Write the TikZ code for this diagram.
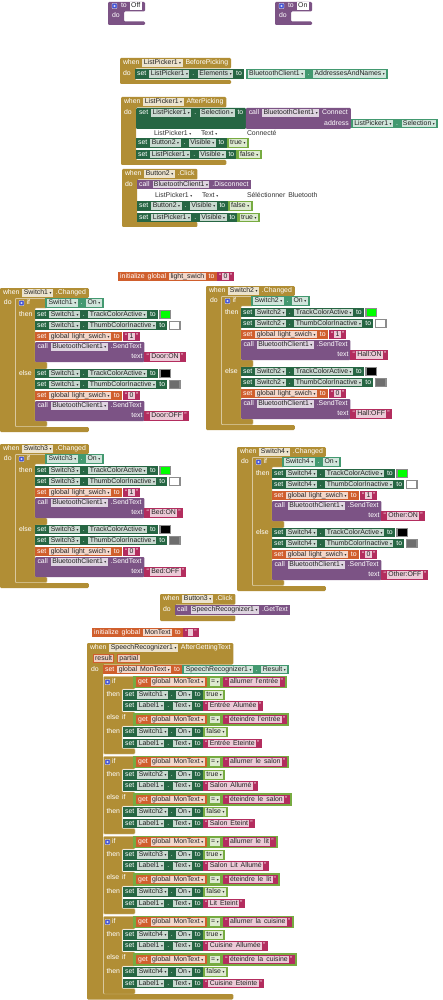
\documentclass[tikz,border=0pt]{standalone}
\usepackage{fontspec}
\setmainfont{Liberation Sans}
\newfontfamily\djv{DejaVu Sans}
\usetikzlibrary{calc}
\pgfdeclarelayer{bg}
\pgfdeclarelayer{mid}
\pgfsetlayers{bg,mid,main}
\definecolor{evc}{HTML}{B18E35}
\definecolor{setg}{HTML}{266643}
\definecolor{getg}{HTML}{439970}
\definecolor{callp}{HTML}{7C5385}
\definecolor{varo}{HTML}{D05F2D}
\definecolor{strm}{HTML}{B32D5E}
\definecolor{logicg}{HTML}{77AB41}
\definecolor{colg}{HTML}{8C8C8C}
\definecolor{thgray}{HTML}{6E6E6E}
\definecolor{gearb}{HTML}{3F51D4}
\definecolor{fldt}{HTML}{222222}
\definecolor{wtxt}{HTML}{333333}
\definecolor{brgreen}{HTML}{00FF00}
\def\fldcol{white}
\newcommand\Dd{\hspace{1.6pt}{\djv\fontsize{3.8}{3.8}\selectfont ▾}}
\newcommand\Fb[1]{{\setlength\fboxsep{0pt}\colorbox{\fldcol}{\color{fldt}\rule[-2.1pt]{0pt}{7.6pt}\hspace{1.4pt}#1\Dd\hspace{1.4pt}}}}
\newcommand\Fs[1]{{\setlength\fboxsep{0pt}\colorbox{\fldcol}{\color{fldt}\rule[-2.1pt]{0pt}{7.6pt}\hspace{1.4pt}#1\hspace{1.4pt}}}}
\newcommand\Bx[2]{{\def\fldcol{#1!25!white}\setlength\fboxsep{0pt}\colorbox{#1}{\color{white}\rule[-3.1pt]{0pt}{9.6pt}\hspace{2.2pt}#2\hspace{2.2pt}}}}
\newcommand\Bxp[2]{{\def\fldcol{#1!25!white}\setlength\fboxsep{1.5pt}\colorbox{#1}{\color{white}\hspace{1.5pt}#2\hspace{0.5pt}}}}
\newcommand\Tx[2]{{\def\fldcol{#1!25!white}\color{white}\rule[-3.1pt]{0pt}{9.6pt}#2}}
\newcommand\Wt[1]{{\color{wtxt}\rule[-3.1pt]{0pt}{9.6pt}#1}}
\newcommand\Sb[1]{\Bx{strm}{“\hspace{1pt}\Fs{#1}\hspace{1pt}”}}
\newcommand\Cb[1]{\Bx{colg}{\hspace{-0.8pt}{\setlength\fboxsep{0pt}\colorbox{#1}{\rule[-1.7pt]{0pt}{6.8pt}\hspace{9pt}}}\hspace{-0.8pt}}}
\newcommand\Cmp[1]{\Bxp{logicg}{\Bx{varo}{get \Fb{global MonText}} \Fb{=} \Sb{#1}}}
\newcommand\Pb[1]{{\setlength\fboxsep{0.8pt}\colorbox{varo}{\setlength\fboxsep{0pt}\colorbox{varo!30!white}{\color{fldt}\rule[-2.1pt]{0pt}{7.6pt}\hspace{1.4pt}#1\hspace{1.4pt}}}}}
\newcommand\Gear[3]{\node[fill=gearb, draw=white, line width=0.3pt, rounded corners=0.6pt, minimum size=5pt, anchor=center] (#1) at (#2,#3) {};
  \fill[white] (#2,#3) circle (1.1pt); \fill[gearb] (#2,#3) circle (0.45pt);}
% event block shape whose header width follows its header node #1
\newcommand\EV[7]{\coordinate (#1r) at ([xshift=3pt]#1.east);
  \begin{pgfonlayer}{bg}\fill[evc,rounded corners=1.2pt] (#2,#3) -- (#1r |- 0,#3) -- (#1r |- 0,#4) -- (#5,#4) -- (#5,#6) -- (#1r |- 0,#6) -- (#1r |- 0,#7) -- (#2,#7) -- cycle;\end{pgfonlayer}}
% one branch of a SwitchN.Changed handler
\newcommand\Branch[7]{%
  \node (s#1#2t) at (35,26.5+#3) {\Bx{setg}{set \Fb{Switch#1} . \Fb{TrackColorActive} to}\hspace{1.5pt}\Cb{#4}};
  \node (s#1#2u) at (35,37.5+#3) {\Bx{setg}{set \Fb{Switch#1} . \Fb{ThumbColorInactive} to}\hspace{1.5pt}\Cb{#5}};
  \node (s#1#2v) at (35,48.5+#3) {\Bx{varo}{set \Fb{global light\_swich} to}\hspace{1pt}\Sb{#6}};
  \node (s#1#2c) at (37.5,59+#3) {\Tx{callp}{call \Fb{BluetoothClient1} .SendText}};
  \coordinate (s#1#2e) at ([xshift=3pt]s#1#2c.east);
  \begin{pgfonlayer}{mid}\fill[callp, rounded corners=1pt] (35,54+#3) rectangle (s#1#2e |- 0,74+#3);\end{pgfonlayer}
  \node (s#1#2s) at (s#1#2e |- 0,69+#3) {\Sb{#7}};
  \node[anchor=east] (s#1#2x) at ([xshift=-2pt]s#1#2s.west) {\Tx{callp}{text}};}
\newcommand\SW[5]{%
\begin{scope}[shift={(#1,#2)}]
\node (s#3h) at (3,5) {\Tx{evc}{when \Fb{Switch#3} .Changed}};
\EV{s#3h}{0}{0}{10}{15}{139}{144}
\begin{pgfonlayer}{bg}
 \filldraw[evc, draw=evc!55!white, line width=0.4pt, rounded corners=1pt] (15.5,10.5) -- (47,10.5) -- (47,20) -- (35,20) -- (35,74) -- (47,74) -- (47,81) -- (35,81) -- (35,133) -- (47,133) -- (47,138.5) -- (15.5,138.5) -- cycle;
\end{pgfonlayer}
\node (s#3do) at (4,15) {\Tx{evc}{do}};
\Gear{s#3g}{21.5}{15}
\node (s#3if) at (26.5,15) {\Tx{evc}{if}};
\node (s#3c) at (45,15) {\Bx{getg}{\Fb{Switch#3} . \Fb{On}}};
\node (s#3th) at (19,26.5) {\Tx{evc}{then}};
\node (s#3el) at (19,85.5) {\Tx{evc}{else}};
\Branch{#3}{a}{0}{brgreen}{white}{1}{#4}
\Branch{#3}{b}{59}{black}{thgray}{0}{#5}
\end{scope}}
% if / else if block of the speech handler
\newcommand\IFB[7]{%
\begin{scope}[shift={(0,#1)}]
\begin{pgfonlayer}{bg}
\filldraw[evc, draw=evc!55!white, line width=0.4pt, rounded corners=1pt] (103.5,0.3) -- (135,0.3) -- (135,13) -- (122,13) -- (122,36) -- (135,36) -- (135,50) -- (122,50) -- (122,72.5) -- (135,72.5) -- (135,78) -- (103.5,78) -- cycle;
\end{pgfonlayer}
\Gear{q#2g}{107.5}{6}
\node (q#2i) at (112,6) {\Tx{evc}{if}};
\node (q#2c1) at (133,6) {\Cmp{#4}};
\node (q#2t1) at (106.5,19) {\Tx{evc}{then}};
\node (q#2r1) at (123,19) {\Bx{setg}{set \Fb{Switch#3} . \Fb{On} to}\Bx{logicg}{\Fb{true}}};
\node (q#2r2) at (123,30) {\Bx{setg}{set \Fb{Label1} . \Fb{Text} to}\Sb{#5}};
\node (q#2e) at (106.5,42) {\Tx{evc}{else if}};
\node (q#2c2) at (133,43.5) {\Cmp{#6}};
\node (q#2t2) at (106.5,56) {\Tx{evc}{then}};
\node (q#2r3) at (123,56) {\Bx{setg}{set \Fb{Switch#3} . \Fb{On} to}\Bx{logicg}{\Fb{false}}};
\node (q#2r4) at (123,67.5) {\Bx{setg}{set \Fb{Label1} . \Fb{Text} to}\Sb{#7}};
\end{scope}}
\newcommand\PROC[3]{%
\begin{scope}[shift={(#1,0)}]
\begin{pgfonlayer}{bg}
\fill[callp, rounded corners=1.2pt] (0,2) -- (37,2) -- (37,11.5) -- (16,11.5) -- (16,21.5) -- (37,21.5) -- (37,25) -- (0,25) -- cycle;
\end{pgfonlayer}
\Gear{#2g}{6.5}{6}
\node (#2t) at (13,6) {\Tx{callp}{to \def\fldcol{white}\Fs{#3}}};
\node (#2d) at (4,16) {\Tx{callp}{do}};
\end{scope}}

\begin{document}
\begin{tikzpicture}[x=1pt,y=-1pt, every node/.style={inner sep=0pt, outer sep=0pt, anchor=west, font={\fontsize{6.9}{7.5}\selectfont\spaceskip=3pt\relax}}]
\begin{pgfonlayer}{bg}\fill[white] (0,0) rectangle (442,1000);\end{pgfonlayer}
\useasboundingbox (0,0) rectangle (442,1000);

% procedures
\PROC{108}{poff}{Off}
\PROC{275}{pon}{On}

% ListPicker1.BeforePicking
\node (bp1) at (123,63) {\Tx{evc}{when \Fb{ListPicker1} BeforePicking}};
\EV{bp1}{120}{58}{68.5}{135}{80}{84}
\node (bp2) at (123,74) {\Tx{evc}{do}};
\node (bp3) at (135,74) {\Bx{setg}{set \Fb{ListPicker1} . \Fb{Elements} to}\hspace{1.5pt}\Bx{getg}{\Fb{BluetoothClient1} . \Fb{AddressesAndNames}}};

% ListPicker1.AfterPicking
\node (ap0) at (124,102) {\Tx{evc}{when \Fb{ListPicker1} AfterPicking}};
\EV{ap0}{121}{97}{107.5}{136}{160}{165}
\node (apd) at (124,113) {\Tx{evc}{do}};
\node (ap1) at (139,113) {\Tx{setg}{set \Fb{ListPicker1} . \Fb{Selection} to}};
\coordinate (ap1e) at ([xshift=2.5pt]ap1.east);
\node (ap2) at ([xshift=3pt]ap1e) {\Tx{callp}{call \Fb{BluetoothClient1} Connect}};
\coordinate (ap2e) at ([xshift=3pt]ap2.east);
\begin{pgfonlayer}{mid}
\fill[setg, rounded corners=1pt] (136,108) rectangle (ap1e |- 0,129);
\fill[callp, rounded corners=1pt] (ap1e |- 0,108) rectangle (ap2e |- 0,129);
\end{pgfonlayer}
\node (ap3) at (ap2e |- 0,123.5) {\Bx{getg}{\Fb{ListPicker1} . \Fb{Selection}}};
\node[anchor=east] (ap4) at ([xshift=-2pt]ap3.west) {\Tx{callp}{address}};
\node (ap5) at (154,133.5) {\Wt{ListPicker1\Dd}};
\node (ap6) at (201,133.5) {\Wt{Text\Dd}};
\node (ap7) at (247,133.5) {\Wt{Connecté}};
\node (ap8) at (136,143) {\Bx{setg}{set \Fb{Button2} . \Fb{Visible} to}\Bx{logicg}{\Fb{true}}};
\node (ap9) at (136,154.5) {\Bx{setg}{set \Fb{ListPicker1} . \Fb{Visible} to}\Bx{logicg}{\Fb{false}}};

% Button2.Click
\node (b20) at (125,174) {\Tx{evc}{when \Fb{Button2} .Click}};
\EV{b20}{122}{169}{179.5}{137}{222}{227}
\node (b2d) at (125,184.5) {\Tx{evc}{do}};
\node (b21) at (137,184.5) {\Bx{callp}{call \Fb{BluetoothClient1} .Disconnect}};
\node (b22) at (155,195.5) {\Wt{ListPicker1\Dd}};
\node (b23) at (202,195.5) {\Wt{Text\Dd}};
\node (b24) at (247,195.5) {\Wt{Séléctionner Bluetooth}};
\node (b25) at (137,206) {\Bx{setg}{set \Fb{Button2} . \Fb{Visible} to}\Bx{logicg}{\Fb{false}}};
\node (b26) at (137,217.5) {\Bx{setg}{set \Fb{ListPicker1} . \Fb{Visible} to}\Bx{logicg}{\Fb{true}}};

% global light_swich
\node (gls) at (118,276.5) {\Bx{varo}{initialize global \Fs{light\_swich} to}\Sb{0}};

% switches
\SW{0}{288}{1}{Door:ON}{Door:OFF}
\SW{206}{286}{2}{Hall:ON}{Hall:OFF}
\SW{0}{444}{3}{Bed:ON}{Bed:OFF}
\SW{237}{447}{4}{Other:ON}{Other:OFF}

% Button3.Click
\node (b30) at (163,599) {\Tx{evc}{when \Fb{Button3} .Click}};
\EV{b30}{160}{594}{604.5}{175}{615.5}{621}
\node (b3d) at (163,610) {\Tx{evc}{do}};
\node (b31) at (175,610) {\Bx{callp}{call \Fb{SpeechRecognizer1} .GetText}};

% global MonText
\node (gmt) at (92,632.5) {\Bx{varo}{initialize global \Fs{MonText} to}\Sb{\hspace{2pt}}};

% SpeechRecognizer1.AfterGettingText
\node (sp1) at (90,648) {\Tx{evc}{when \Fb{SpeechRecognizer1} AfterGettingText}};
\EV{sp1}{87}{643}{664.5}{103}{994}{999.5}
\node (sp2) at (93,658.5) {\Pb{result}\hspace{3pt}\Pb{partial}};
\node (sp3) at (91,669.5) {\Tx{evc}{do}};
\node (sp4) at (103,669.5) {\Bx{varo}{set \Fb{global MonText} to}\Bx{getg}{\Fb{SpeechRecognizer1} . \Fb{Result}}};
\IFB{676}{a}{1}{allumer l'entrée}{Entrée Alumée}{éteindre l'entrée}{Entrée Eteinte}
\IFB{756}{b}{2}{allumer le salon}{Salon Allumé}{éteindre le salon}{Salon Eteint}
\IFB{836}{c}{3}{allumer le lit}{Salon Lit Allumé}{éteindre le lit}{Lit Eteint}
\IFB{916}{d}{4}{allumer la cuisine}{Cuisine Allumée}{éteindre la cuisine}{Cuisine Eteinte}
\end{tikzpicture}
\end{document}
